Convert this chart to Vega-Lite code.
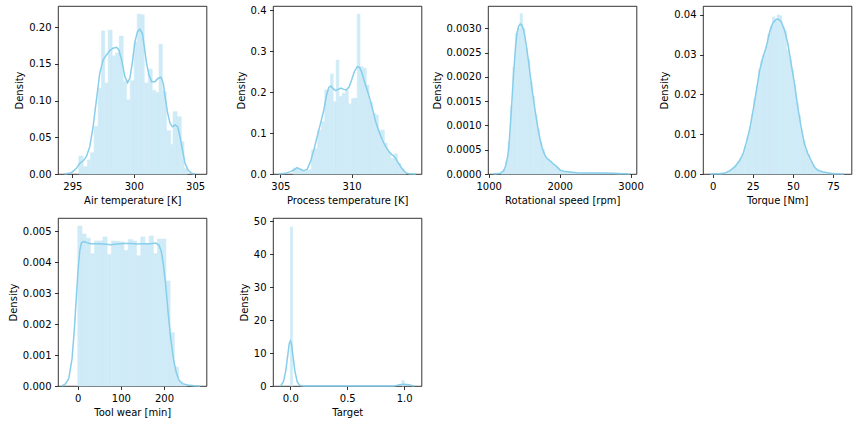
{
"$schema": "https://vega.github.io/schema/vega-lite/v6.json",
"background": "white",
"padding": {"left": 7, "top": 4, "right": 5, "bottom": 5},
"columns": 4,
"spacing": {"row": 44, "column": 66},
"bounds": "flush",
"datasets": {
"air_bars": [
{"x0":295.52,"x1":295.87,"density":0.0245},{"x0":295.87,"x1":296.23,"density":0.010},{"x0":296.23,"x1":296.47,"density":0.019},{"x0":296.47,"x1":296.77,"density":0.029},{"x0":296.77,"x1":297.10,"density":0.065},{"x0":297.10,"x1":297.37,"density":0.117},{"x0":297.37,"x1":297.64,"density":0.195},{"x0":297.64,"x1":297.92,"density":0.124},{"x0":297.92,"x1":298.24,"density":0.196},{"x0":298.24,"x1":298.52,"density":0.161},{"x0":298.52,"x1":298.82,"density":0.165},{"x0":298.82,"x1":299.14,"density":0.188},{"x0":299.14,"x1":299.41,"density":0.126},{"x0":299.41,"x1":299.71,"density":0.101},{"x0":299.71,"x1":300.04,"density":0.127},{"x0":300.04,"x1":300.29,"density":0.180},{"x0":300.29,"x1":300.59,"density":0.218},{"x0":300.59,"x1":300.86,"density":0.217},{"x0":300.86,"x1":301.19,"density":0.124},{"x0":301.19,"x1":301.51,"density":0.143},{"x0":301.51,"x1":301.79,"density":0.114},{"x0":301.79,"x1":302.06,"density":0.111},{"x0":302.06,"x1":302.33,"density":0.177},{"x0":302.33,"x1":302.66,"density":0.112},{"x0":302.66,"x1":303.01,"density":0.059},{"x0":303.01,"x1":303.20,"density":0.040},{"x0":303.20,"x1":303.53,"density":0.085},{"x0":303.53,"x1":303.88,"density":0.078},{"x0":303.88,"x1":304.10,"density":0.044},{"x0":304.10,"x1":304.37,"density":0.008}
],
"air_kde": [
{"x":294.37,"density":0},{"x":294.92,"density":0.0018},{"x":295.33,"density":0.0077},{"x":295.60,"density":0.0145},{"x":295.87,"density":0.0177},{"x":296.14,"density":0.0236},{"x":296.42,"density":0.0373},{"x":296.69,"density":0.0645},{"x":296.96,"density":0.1009},{"x":297.23,"density":0.1373},{"x":297.51,"density":0.1555},{"x":297.78,"density":0.1623},{"x":298.05,"density":0.1682},{"x":298.32,"density":0.1714},{"x":298.60,"density":0.1727},{"x":298.79,"density":0.1691},{"x":299.01,"density":0.1555},{"x":299.28,"density":0.1327},{"x":299.50,"density":0.1245},{"x":299.69,"density":0.1309},{"x":299.88,"density":0.1509},{"x":300.10,"density":0.1805},{"x":300.31,"density":0.1941},{"x":300.50,"density":0.1973},{"x":300.70,"density":0.1918},{"x":300.86,"density":0.1736},{"x":301.05,"density":0.1509},{"x":301.24,"density":0.1350},{"x":301.46,"density":0.1259},{"x":301.73,"density":0.1259},{"x":302.00,"density":0.1305},{"x":302.22,"density":0.1318},{"x":302.41,"density":0.1236},{"x":302.55,"density":0.1055},{"x":302.77,"density":0.0827},{"x":302.96,"density":0.0691},{"x":303.15,"density":0.0645},{"x":303.37,"density":0.0668},{"x":303.58,"density":0.0645},{"x":303.77,"density":0.0509},{"x":303.97,"density":0.0327},{"x":304.18,"density":0.0145},{"x":304.46,"density":0.0045},{"x":304.73,"density":0.0009},{"x":305.00,"density":0}
],
"proc_bars": [
{"x0":305.87,"x1":306.24,"density":0.014},{"x0":306.24,"x1":306.53,"density":0.013},{"x0":306.53,"x1":306.88,"density":0.006},{"x0":306.88,"x1":307.18,"density":0.010},{"x0":307.18,"x1":307.42,"density":0.059},{"x0":307.42,"x1":307.61,"density":0.062},{"x0":307.61,"x1":307.89,"density":0.107},{"x0":307.89,"x1":308.12,"density":0.128},{"x0":308.12,"x1":308.29,"density":0.205},{"x0":308.29,"x1":308.52,"density":0.207},{"x0":308.52,"x1":308.71,"density":0.244},{"x0":308.71,"x1":308.92,"density":0.176},{"x0":308.92,"x1":309.11,"density":0.278},{"x0":309.11,"x1":309.34,"density":0.189},{"x0":309.34,"x1":309.58,"density":0.197},{"x0":309.58,"x1":309.77,"density":0.205},{"x0":309.77,"x1":310.00,"density":0.171},{"x0":310.00,"x1":310.16,"density":0.184},{"x0":310.16,"x1":310.40,"density":0.185},{"x0":310.40,"x1":310.59,"density":0.390},{"x0":310.59,"x1":310.80,"density":0.262},{"x0":310.80,"x1":311.03,"density":0.258},{"x0":311.03,"x1":311.22,"density":0.217},{"x0":311.22,"x1":311.46,"density":0.176},{"x0":311.46,"x1":311.69,"density":0.148},{"x0":311.69,"x1":311.88,"density":0.144},{"x0":311.88,"x1":312.11,"density":0.107},{"x0":312.11,"x1":312.30,"density":0.107},{"x0":312.30,"x1":312.51,"density":0.075},{"x0":312.51,"x1":312.75,"density":0.054},{"x0":312.75,"x1":312.98,"density":0.038},{"x0":312.98,"x1":313.22,"density":0.049},{"x0":313.22,"x1":313.45,"density":0.026},{"x0":313.45,"x1":313.69,"density":0.014},{"x0":313.69,"x1":313.80,"density":0.006}
],
"proc_kde": [
{"x":304.88,"density":0},{"x":305.35,"density":0.0016},{"x":305.70,"density":0.0057},{"x":305.94,"density":0.0098},{"x":306.17,"density":0.0154},{"x":306.41,"density":0.0114},{"x":306.64,"density":0.0081},{"x":306.88,"density":0.0114},{"x":307.11,"density":0.0301},{"x":307.35,"density":0.0585},{"x":307.58,"density":0.0911},{"x":307.82,"density":0.1236},{"x":308.05,"density":0.1561},{"x":308.24,"density":0.1927},{"x":308.40,"density":0.2114},{"x":308.55,"density":0.2146},{"x":308.69,"density":0.2089},{"x":308.87,"density":0.2033},{"x":309.06,"density":0.2065},{"x":309.25,"density":0.2098},{"x":309.44,"density":0.2065},{"x":309.62,"density":0.2049},{"x":309.81,"density":0.2114},{"x":310.00,"density":0.2293},{"x":310.19,"density":0.2496},{"x":310.40,"density":0.2618},{"x":310.56,"density":0.2602},{"x":310.70,"density":0.2496},{"x":310.87,"density":0.2293},{"x":311.06,"density":0.2089},{"x":311.27,"density":0.1846},{"x":311.46,"density":0.1602},{"x":311.69,"density":0.1276},{"x":311.93,"density":0.1033},{"x":312.16,"density":0.0829},{"x":312.39,"density":0.0667},{"x":312.63,"density":0.0545},{"x":312.86,"density":0.0463},{"x":313.05,"density":0.0407},{"x":313.22,"density":0.0301},{"x":313.38,"density":0.0220},{"x":313.57,"density":0.0114},{"x":313.80,"density":0.0033},{"x":314.04,"density":0.0008},{"x":314.51,"density":0}
],
"rot_bars": [
{"x0":1168.0,"x1":1202.4,"density":0.00004},{"x0":1202.4,"x1":1236.7,"density":0.0001},{"x0":1236.7,"x1":1271.1,"density":0.00026},{"x0":1271.1,"x1":1305.4,"density":0.00066},{"x0":1305.4,"x1":1339.8,"density":0.0014},{"x0":1339.8,"x1":1374.2,"density":0.0022},{"x0":1374.2,"x1":1408.5,"density":0.0029},{"x0":1408.5,"x1":1442.9,"density":0.0030},{"x0":1442.9,"x1":1477.2,"density":0.0033},{"x0":1477.2,"x1":1511.6,"density":0.0030},{"x0":1511.6,"x1":1546.0,"density":0.0026},{"x0":1546.0,"x1":1580.3,"density":0.00236},{"x0":1580.3,"x1":1614.7,"density":0.0019},{"x0":1614.7,"x1":1649.0,"density":0.0016},{"x0":1649.0,"x1":1683.4,"density":0.00122},{"x0":1683.4,"x1":1717.8,"density":0.00092},{"x0":1717.8,"x1":1752.1,"density":0.00066},{"x0":1752.1,"x1":1786.5,"density":0.0005},{"x0":1786.5,"x1":1820.8,"density":0.00036},{"x0":1820.8,"x1":1855.2,"density":0.00031},{"x0":1855.2,"x1":1889.6,"density":0.00027},{"x0":1889.6,"x1":1923.9,"density":0.00022},{"x0":1923.9,"x1":1958.3,"density":0.00017},{"x0":1958.3,"x1":1992.6,"density":0.00012},{"x0":1992.6,"x1":2027.0,"density":0.00007},{"x0":2027.0,"x1":2061.4,"density":0.00005},{"x0":2061.4,"x1":2095.7,"density":0.00005},{"x0":2095.7,"x1":2130.1,"density":0.00004},{"x0":2130.1,"x1":2164.4,"density":0.00004},{"x0":2164.4,"x1":2198.8,"density":0.00003},{"x0":2198.8,"x1":2233.2,"density":0.00003},{"x0":2233.2,"x1":2267.5,"density":0.00003},{"x0":2267.5,"x1":2301.9,"density":0.00002},{"x0":2301.9,"x1":2336.2,"density":0.00002},{"x0":2336.2,"x1":2370.6,"density":0.00002},{"x0":2370.6,"x1":2405.0,"density":0.00002},{"x0":2405.0,"x1":2439.3,"density":0.00002},{"x0":2439.3,"x1":2473.7,"density":0.00002},{"x0":2473.7,"x1":2508.0,"density":0.00002},{"x0":2508.0,"x1":2542.4,"density":0.00002},{"x0":2542.4,"x1":2576.8,"density":0.00002},{"x0":2576.8,"x1":2611.1,"density":0.00002},{"x0":2611.1,"x1":2645.5,"density":0.00001},{"x0":2645.5,"x1":2679.8,"density":0.00002},{"x0":2679.8,"x1":2714.2,"density":0.00001},{"x0":2714.2,"x1":2748.6,"density":0.00001},{"x0":2748.6,"x1":2782.9,"density":0.00001},{"x0":2782.9,"x1":2817.3,"density":0.00001},{"x0":2817.3,"x1":2851.6,"density":0.00001},{"x0":2851.6,"x1":2886.0,"density":0.00001}
],
"rot_kde": [
{"x":1070,"density":0},{"x":1164,"density":0.0000137},{"x":1211,"density":0.0000687},{"x":1234,"density":0.000151},{"x":1258,"density":0.000288},{"x":1281,"density":0.000494},{"x":1304,"density":0.000975},{"x":1328,"density":0.001524},{"x":1351,"density":0.002073},{"x":1375,"density":0.002554},{"x":1398,"density":0.002897},{"x":1422,"density":0.003048},{"x":1445,"density":0.003089},{"x":1468,"density":0.003069},{"x":1492,"density":0.002966},{"x":1515,"density":0.002794},{"x":1539,"density":0.002554},{"x":1562,"density":0.002314},{"x":1585,"density":0.002039},{"x":1609,"density":0.001764},{"x":1632,"density":0.001524},{"x":1656,"density":0.001284},{"x":1679,"density":0.001078},{"x":1702,"density":0.000872},{"x":1726,"density":0.0007},{"x":1749,"density":0.000563},{"x":1773,"density":0.00046},{"x":1796,"density":0.000378},{"x":1820,"density":0.000323},{"x":1867,"density":0.000268},{"x":1913,"density":0.000206},{"x":1960,"density":0.000151},{"x":2007,"density":0.0000824},{"x":2054,"density":0.0000549},{"x":2148,"density":0.0000412},{"x":2241,"density":0.0000275},{"x":2382,"density":0.0000206},{"x":2616,"density":0.0000206},{"x":2756,"density":0.0000137},{"x":2897,"density":0.0000069},{"x":2991,"density":0}
],
"tor_bars": [
{"x0":3.8,"x1":5.256,"density":0.0001},{"x0":5.256,"x1":6.712,"density":0.0001},{"x0":6.712,"x1":8.168,"density":0.0002},{"x0":8.168,"x1":9.624,"density":0.0004},{"x0":9.624,"x1":11.08,"density":0.0007},{"x0":11.08,"x1":12.536,"density":0.0011},{"x0":12.536,"x1":13.992,"density":0.0016},{"x0":13.992,"x1":15.448,"density":0.0023},{"x0":15.448,"x1":16.904,"density":0.0029},{"x0":16.904,"x1":18.36,"density":0.004},{"x0":18.36,"x1":19.816,"density":0.0052},{"x0":19.816,"x1":21.272,"density":0.007},{"x0":21.272,"x1":22.728,"density":0.0093},{"x0":22.728,"x1":24.184,"density":0.0118},{"x0":24.184,"x1":25.64,"density":0.015},{"x0":25.64,"x1":27.096,"density":0.019},{"x0":27.096,"x1":28.552,"density":0.0222},{"x0":28.552,"x1":30.008,"density":0.0262},{"x0":30.008,"x1":31.464,"density":0.0285},{"x0":31.464,"x1":32.92,"density":0.03},{"x0":32.92,"x1":34.376,"density":0.0322},{"x0":34.376,"x1":35.832,"density":0.0352},{"x0":35.832,"x1":37.288,"density":0.0372},{"x0":37.288,"x1":38.744,"density":0.0395},{"x0":38.744,"x1":40.2,"density":0.0385},{"x0":40.2,"x1":41.656,"density":0.04},{"x0":41.656,"x1":43.112,"density":0.0398},{"x0":43.112,"x1":44.568,"density":0.0372},{"x0":44.568,"x1":46.024,"density":0.036},{"x0":46.024,"x1":47.48,"density":0.0312},{"x0":47.48,"x1":48.936,"density":0.029},{"x0":48.936,"x1":50.392,"density":0.0262},{"x0":50.392,"x1":51.848,"density":0.0225},{"x0":51.848,"x1":53.304,"density":0.018},{"x0":53.304,"x1":54.76,"density":0.0148},{"x0":54.76,"x1":56.216,"density":0.011},{"x0":56.216,"x1":57.672,"density":0.0085},{"x0":57.672,"x1":59.128,"density":0.006},{"x0":59.128,"x1":60.584,"density":0.005},{"x0":60.584,"x1":62.04,"density":0.0032},{"x0":62.04,"x1":63.496,"density":0.0022},{"x0":63.496,"x1":64.952,"density":0.0014},{"x0":64.952,"x1":66.408,"density":0.0009},{"x0":66.408,"x1":67.864,"density":0.0006},{"x0":67.864,"x1":69.32,"density":0.0004},{"x0":69.32,"x1":70.776,"density":0.0003},{"x0":70.776,"x1":72.232,"density":0.0002},{"x0":72.232,"x1":73.688,"density":0.0001},{"x0":73.688,"x1":75.144,"density":0.0001},{"x0":75.144,"x1":76.6,"density":0.0001}
],
"tor_kde": [
{"x":-1.44,"density":0},{"x":3.70,"density":0.000084},{"x":7.81,"density":0.00025},{"x":10.89,"density":0.00084},{"x":13.97,"density":0.00184},{"x":17.05,"density":0.00352},{"x":19.11,"density":0.0052},{"x":21.16,"density":0.00813},{"x":23.22,"density":0.01148},{"x":25.27,"density":0.01609},{"x":27.33,"density":0.02112},{"x":29.38,"density":0.02615},{"x":31.44,"density":0.0295},{"x":33.49,"density":0.03202},{"x":35.55,"density":0.03579},{"x":37.60,"density":0.03806},{"x":39.66,"density":0.03889},{"x":41.09,"density":0.03889},{"x":42.74,"density":0.03831},{"x":44.79,"density":0.03621},{"x":46.85,"density":0.03286},{"x":48.90,"density":0.02783},{"x":50.96,"density":0.0228},{"x":53.01,"density":0.01693},{"x":55.07,"density":0.0119},{"x":57.12,"density":0.00771},{"x":59.18,"density":0.0052},{"x":61.24,"density":0.00352},{"x":63.29,"density":0.00184},{"x":65.35,"density":0.00101},{"x":68.42,"density":0.00059},{"x":71.50,"density":0.00034},{"x":75.61,"density":0.00008},{"x":81.78,"density":0}
],
"wear_bars": [
{"x0":0,"x1":9.73,"density":0.00516},{"x0":9.73,"x1":19.46,"density":0.0049},{"x0":19.46,"x1":29.19,"density":0.00477},{"x0":29.19,"x1":38.92,"density":0.00427},{"x0":38.92,"x1":48.65,"density":0.00468},{"x0":48.65,"x1":58.38,"density":0.00468},{"x0":58.38,"x1":68.12,"density":0.00481},{"x0":68.12,"x1":77.85,"density":0.00424},{"x0":77.85,"x1":87.58,"density":0.00468},{"x0":87.58,"x1":97.31,"density":0.00467},{"x0":97.31,"x1":107.04,"density":0.00465},{"x0":107.04,"x1":116.77,"density":0.00437},{"x0":116.77,"x1":126.5,"density":0.00473},{"x0":126.5,"x1":136.23,"density":0.00468},{"x0":136.23,"x1":145.96,"density":0.0042},{"x0":145.96,"x1":155.69,"density":0.00481},{"x0":155.69,"x1":165.42,"density":0.00459},{"x0":165.42,"x1":175.15,"density":0.00484},{"x0":175.15,"x1":184.88,"density":0.00427},{"x0":184.88,"x1":194.62,"density":0.00474},{"x0":194.62,"x1":204.35,"density":0.00474},{"x0":204.35,"x1":214.08,"density":0.00339},{"x0":214.08,"x1":223.81,"density":0.00172},{"x0":223.81,"x1":233.54,"density":0.00061},{"x0":233.54,"x1":243.27,"density":0.00013},{"x0":243.27,"x1":253,"density":0.00004}
],
"wear_kde": [
{"x":-36.4,"density":0},{"x":-28.7,"density":0.0000645},{"x":-20.9,"density":0.000237},{"x":-13.2,"density":0.000882},{"x":-7.75,"density":0.00185},{"x":-3.1,"density":0.0029},{"x":0.78,"density":0.00376},{"x":4.65,"density":0.00437},{"x":8.53,"density":0.00462},{"x":13.95,"density":0.00466},{"x":21.71,"density":0.00462},{"x":29.46,"density":0.00459},{"x":44.96,"density":0.00459},{"x":60.47,"density":0.00458},{"x":75.97,"density":0.00456},{"x":91.47,"density":0.00458},{"x":106.98,"density":0.0046},{"x":122.48,"density":0.0046},{"x":137.98,"density":0.00458},{"x":153.49,"density":0.00459},{"x":168.99,"density":0.00459},{"x":180.62,"density":0.00461},{"x":188.37,"density":0.00454},{"x":193.8,"density":0.00433},{"x":198.45,"density":0.0039},{"x":203.88,"density":0.00326},{"x":209.3,"density":0.00239},{"x":215.5,"density":0.00153},{"x":221.71,"density":0.00088},{"x":227.91,"density":0.00045},{"x":234.88,"density":0.000183},{"x":242.64,"density":0.0000753},{"x":254.26,"density":0.0000323},{"x":269.77,"density":0.0000108},{"x":283.72,"density":0}
],
"tgt_bars": [
{"x0":0,"x1":0.02,"density":48.3},{"x0":0.98,"x1":1.0,"density":1.7}
],
"tgt_kde": [
{"x":-0.09,"density":0.03},{"x":-0.08,"density":0.25},{"x":-0.06,"density":1.4},{"x":-0.04,"density":4.6},{"x":-0.02,"density":10.0},{"x":-0.01,"density":12.8},{"x":0.0,"density":13.7},{"x":0.01,"density":12.8},{"x":0.02,"density":10.0},{"x":0.04,"density":4.6},{"x":0.06,"density":1.4},{"x":0.08,"density":0.25},{"x":0.10,"density":0.05},{"x":0.12,"density":0.01},{"x":0.2,"density":0.0},{"x":0.5,"density":0.0},{"x":0.8,"density":0.0},{"x":0.88,"density":0.01},{"x":0.9,"density":0.03},{"x":0.92,"density":0.09},{"x":0.94,"density":0.2},{"x":0.96,"density":0.36},{"x":0.98,"density":0.46},{"x":1.0,"density":0.5},{"x":1.02,"density":0.46},{"x":1.04,"density":0.36},{"x":1.06,"density":0.2},{"x":1.08,"density":0.09},{"x":1.09,"density":0.04}
]
},
"concat": [
{"width": 148.5, "height": 168, "layer": [
 {"data": {"name": "air_bars"}, "mark": {"type": "rect", "color": "#CFEBF7", "stroke": "#CFEBF7", "strokeWidth": 0.6},
  "encoding": {"x": {"field": "x0", "type": "quantitative", "scale": {"domain": [293.83, 305.93], "nice": false, "zero": false}, "axis": {"title": "Air temperature [K]", "values": [295, 300, 305], "format": "d", "tickCount": 20}},
   "x2": {"field": "x1"},
   "y": {"field": "density", "type": "quantitative", "scale": {"domain": [0, 0.229], "nice": false}, "axis": {"title": "Density", "values": [0, 0.05, 0.1, 0.15, 0.2], "format": ".2f", "tickCount": 20}},
   "y2": {"datum": 0}}},
 {"data": {"name": "air_kde"}, "mark": {"type": "line", "color": "#87CEEB", "strokeWidth": 1.5},
  "encoding": {"x": {"field": "x", "type": "quantitative"}, "y": {"field": "density", "type": "quantitative"}}}
]},
{"width": 148.5, "height": 168, "layer": [
 {"data": {"name": "proc_bars"}, "mark": {"type": "rect", "color": "#CFEBF7", "stroke": "#CFEBF7", "strokeWidth": 0.6},
  "encoding": {"x": {"field": "x0", "type": "quantitative", "scale": {"domain": [304.48, 314.91], "nice": false, "zero": false}, "axis": {"title": "Process temperature [K]", "values": [305, 310], "format": "d", "tickCount": 20}},
   "x2": {"field": "x1"},
   "y": {"field": "density", "type": "quantitative", "scale": {"domain": [0, 0.41], "nice": false}, "axis": {"title": "Density", "values": [0, 0.1, 0.2, 0.3, 0.4], "format": ".1f", "tickCount": 20}},
   "y2": {"datum": 0}}},
 {"data": {"name": "proc_kde"}, "mark": {"type": "line", "color": "#87CEEB", "strokeWidth": 1.5},
  "encoding": {"x": {"field": "x", "type": "quantitative"}, "y": {"field": "density", "type": "quantitative"}}}
]},
{"width": 148.5, "height": 168, "layer": [
 {"data": {"name": "rot_bars"}, "mark": {"type": "rect", "color": "#CFEBF7", "stroke": "#CFEBF7", "strokeWidth": 0.6},
  "encoding": {"x": {"field": "x0", "type": "quantitative", "scale": {"domain": [990, 3084], "nice": false, "zero": false}, "axis": {"title": "Rotational speed [rpm]", "values": [1000, 2000, 3000], "format": "d", "tickCount": 20}},
   "x2": {"field": "x1"},
   "y": {"field": "density", "type": "quantitative", "scale": {"domain": [0, 0.00346], "nice": false}, "axis": {"title": "Density", "values": [0, 0.0005, 0.001, 0.0015, 0.002, 0.0025, 0.003], "format": ".4f", "tickCount": 20}},
   "y2": {"datum": 0}}},
 {"data": {"name": "rot_kde"}, "mark": {"type": "line", "color": "#87CEEB", "strokeWidth": 1.5},
  "encoding": {"x": {"field": "x", "type": "quantitative"}, "y": {"field": "density", "type": "quantitative"}}}
]},
{"width": 148.5, "height": 168, "layer": [
 {"data": {"name": "tor_bars"}, "mark": {"type": "rect", "color": "#CFEBF7", "stroke": "#CFEBF7", "strokeWidth": 0.6},
  "encoding": {"x": {"field": "x0", "type": "quantitative", "scale": {"domain": [-5.96, 86.5], "nice": false, "zero": false}, "axis": {"title": "Torque [Nm]", "values": [0, 25, 50, 75], "format": "d", "tickCount": 20}},
   "x2": {"field": "x1"},
   "y": {"field": "density", "type": "quantitative", "scale": {"domain": [0, 0.04225], "nice": false}, "axis": {"title": "Density", "values": [0, 0.01, 0.02, 0.03, 0.04], "format": ".2f", "tickCount": 20}},
   "y2": {"datum": 0}}},
 {"data": {"name": "tor_kde"}, "mark": {"type": "line", "color": "#87CEEB", "strokeWidth": 1.5},
  "encoding": {"x": {"field": "x", "type": "quantitative"}, "y": {"field": "density", "type": "quantitative"}}}
]},
{"width": 148.5, "height": 168, "layer": [
 {"data": {"name": "wear_bars"}, "mark": {"type": "rect", "color": "#CFEBF7", "stroke": "#CFEBF7", "strokeWidth": 0.6},
  "encoding": {"x": {"field": "x0", "type": "quantitative", "scale": {"domain": [-45.8, 298.4], "nice": false, "zero": false}, "axis": {"title": "Tool wear [min]", "values": [0, 100, 200], "format": "d", "tickCount": 20}},
   "x2": {"field": "x1"},
   "y": {"field": "density", "type": "quantitative", "scale": {"domain": [0, 0.00542], "nice": false}, "axis": {"title": "Density", "values": [0, 0.001, 0.002, 0.003, 0.004, 0.005], "format": ".3f", "tickCount": 20}},
   "y2": {"datum": 0}}},
 {"data": {"name": "wear_kde"}, "mark": {"type": "line", "color": "#87CEEB", "strokeWidth": 1.5},
  "encoding": {"x": {"field": "x", "type": "quantitative"}, "y": {"field": "density", "type": "quantitative"}}}
]},
{"width": 148.5, "height": 168, "layer": [
 {"data": {"name": "tgt_bars"}, "mark": {"type": "rect", "color": "#CFEBF7", "stroke": "#CFEBF7", "strokeWidth": 0.6},
  "encoding": {"x": {"field": "x0", "type": "quantitative", "scale": {"domain": [-0.152, 1.152], "nice": false, "zero": false}, "axis": {"title": "Target", "values": [0, 0.5, 1], "format": ".1f", "tickCount": 20}},
   "x2": {"field": "x1"},
   "y": {"field": "density", "type": "quantitative", "scale": {"domain": [0, 51], "nice": false}, "axis": {"title": "Density", "values": [0, 10, 20, 30, 40, 50], "format": "d", "tickCount": 20}},
   "y2": {"datum": 0}}},
 {"data": {"name": "tgt_kde"}, "mark": {"type": "line", "color": "#87CEEB", "strokeWidth": 1.5},
  "encoding": {"x": {"field": "x", "type": "quantitative"}, "y": {"field": "density", "type": "quantitative"}}}
]}
],
"config": {
 "view": {"stroke": "#000", "strokeWidth": 0.8},
 "axis": {"domain": false, "grid": false, "tickColor": "#000", "tickWidth": 0.8, "tickSize": 3.5, "labelFont": "DejaVu Sans", "labelFontSize": 10, "labelColor": "#000", "labelPadding": 3.5, "labelFlush": false, "labelOverlap": false, "titleFont": "DejaVu Sans", "titleFontSize": 10, "titleFontWeight": "normal", "titleColor": "#000", "titlePadding": 4}
}
}
